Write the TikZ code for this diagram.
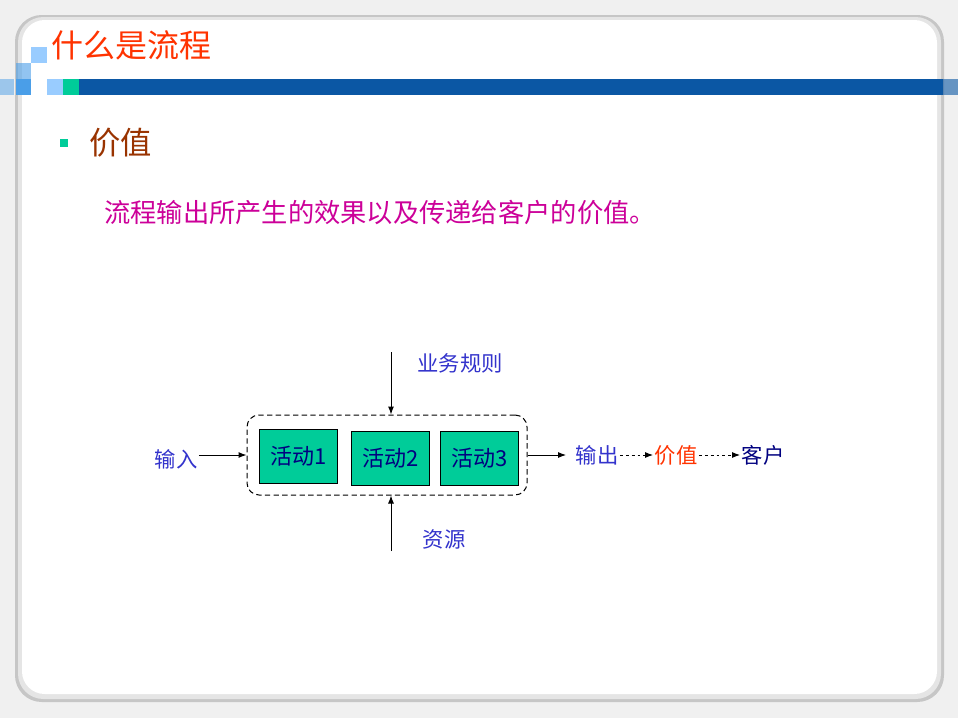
\documentclass[tikz,border=0pt]{standalone}
\usepackage{fontspec}
\setmainfont{Noto Sans CJK SC}
\usetikzlibrary{arrows.meta,positioning,patterns}
\definecolor{titlered}{HTML}{FF3300}
\definecolor{headbrown}{HTML}{993300}
\definecolor{textpink}{HTML}{CC0099}
\definecolor{labelblue}{HTML}{3333CC}
\definecolor{navy}{HTML}{000080}
\definecolor{actgreen}{HTML}{00CC99}
\definecolor{barblue}{HTML}{0B57A4}
\definecolor{lightblue}{HTML}{99CCFF}
\definecolor{midblue}{HTML}{4A9EE8}

\tikzset{
  act/.style={rectangle, draw=black, line width=0.75pt, fill=actgreen,
    minimum width=59pt, minimum height=40.5pt, inner sep=0pt,
    text=navy, font=\fontsize{16.5}{19}\selectfont},
  lbl/.style={inner sep=1pt, font=\fontsize{16}{19}\selectfont},
  conn/.style={->, line width=0.75pt},
}

\begin{document}
\begin{tikzpicture}[x=0.75pt, y=-0.75pt, >={Latex[length=6pt,width=4.5pt]}]
  \useasboundingbox (0,0) rectangle (958,718);

  % Fondo y marco
  \fill[gray!12] (0,0) rectangle (958,718);
  \fill[gray!45, rounded corners=20pt] (15,15) rectangle (944,702);
  \fill[gray!20, rounded corners=19pt] (18,17) rectangle (941,699);
  \fill[white, rounded corners=17pt] (22,20) rectangle (937,694);

  % Cuadros de la cabecera
  \fill[lightblue] (31,47) rectangle (47,63);
  \fill[midblue, opacity=0.6] (16,63) rectangle (31,79);
  \fill[midblue, opacity=0.5] (0,79) rectangle (14,95);
  \fill[midblue] (16,79) rectangle (31,95);
  \fill[lightblue] (47,79) rectangle (63,95);
  \fill[actgreen] (63,79) rectangle (79,95);
  \fill[barblue] (79,79) rectangle (943,95);
  \fill[barblue, opacity=0.6] (943,79) rectangle (958,95);

  % Textos
  \node[anchor=west, inner sep=0pt, text=titlered, font=\fontsize{24}{28}\selectfont] (title) at (51,45) {什么是流程};
  \fill[actgreen] (60,139) rectangle (68,147);
  \node[anchor=west, inner sep=0pt, text=headbrown, font=\fontsize{23.5}{27}\selectfont] (head) at (89,143) {价值};
  \node[anchor=west, inner sep=0pt, text=textpink, font=\fontsize{19.7}{23}\selectfont] (desc) at (104,213) {流程输出所产生的效果以及传递给客户的价值。};

  % Actividades
  \node[act] (act1) at (298.5,456) {活动1};
  \node[act] (act2) at (390.5,458) {活动2};
  \node[act] (act3) at (479.5,458) {活动3};
  \node[draw, dashed, dash pattern=on 4pt off 2.5pt, line width=0.75pt, rounded corners=9pt,
    minimum width=210pt, minimum height=60pt] (group) at (387,455) {};

  % Entradas y salidas
  \node[lbl, text=labelblue] (input) at (176,459) {输入};
  \node[lbl, text=labelblue] (rule) at (460,363) {业务规则};
  \node[lbl, text=labelblue] (res) at (444,539) {资源};
  \node[lbl, text=labelblue] (output) at (597,455) {输出};
  \node[lbl, text=titlered] (value) at (676,455) {价值};
  \node[lbl, text=navy] (client) at (763,455) {客户};
  \coordinate (ruletop) at (391,352);
  \coordinate (resbot) at (391,551);

  % Flechas
  \draw[conn] (input.east |- group.west) -- (group.west);
  \draw[conn] (ruletop) -- (ruletop |- group.north);
  \draw[conn] (resbot) -- (resbot |- group.south);
  \draw[conn] (group.east) -- ([xshift=-6]output.west);
  \draw[conn, dashed, dash pattern=on 2.2pt off 2.2pt] (output) -- (value);
  \draw[conn, dashed, dash pattern=on 2.2pt off 2.2pt] (value) -- (client);
\end{tikzpicture}
\end{document}
